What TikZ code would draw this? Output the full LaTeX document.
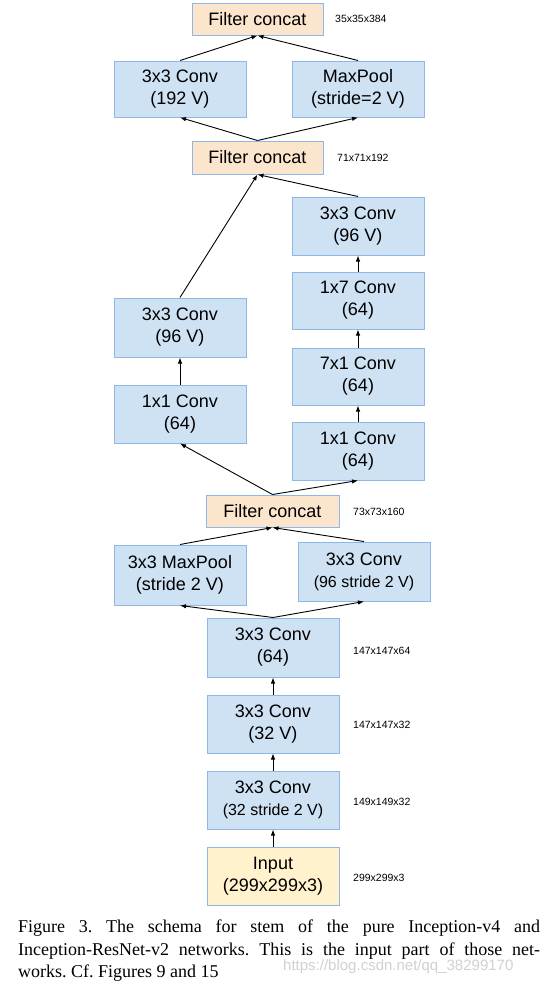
\documentclass[tikz,border=0pt]{standalone}
\usepackage{fontspec}
\setmainfont{Liberation Serif}
\setsansfont{Liberation Sans}
\usetikzlibrary{arrows.meta}

\definecolor{convfill}{HTML}{CFE2F3}
\definecolor{concatfill}{HTML}{FCE5CD}
\definecolor{inputfill}{HTML}{FFF2CC}
\definecolor{boxline}{HTML}{8EB6E6}

\tikzset{
  block/.style={draw=boxline, line width=1pt, align=center, inner sep=0pt,
    font=\sffamily\fontsize{18}{22}\selectfont, minimum width=132pt},
  convbox/.style={block, fill=convfill, minimum height=58pt},
  concatbox/.style={block, fill=concatfill, minimum height=32pt},
  inputbox/.style={block, fill=inputfill, minimum height=58pt},
  dimlabel/.style={anchor=west, inner sep=0pt, font=\sffamily\fontsize{10.5}{12}\selectfont},
  arr/.style={-{Latex[length=6pt,width=4.5pt]}, line width=0.9pt}
}
\newcommand{\smallline}[1]{{\fontsize{16}{20}\selectfont #1}}

\begin{document}
\frenchspacing
\begin{tikzpicture}[x=1pt, y=-1pt]
  \useasboundingbox[fill=white] (0,0) rectangle (558,986);

  % top concat and its two branches
  \node[concatbox, minimum width=131pt] (fcA) at (257.5,19) {Filter concat};
  \node[dimlabel] (dimA) at (335,19) {35x35x384};
  \node[convbox, minimum height=56pt] (convA) at (180,89) {3x3 Conv\\(192 V)};
  \node[convbox, minimum height=56pt] (poolA) at (358,89) {MaxPool\\(stride=2 V)};

  % middle concat
  \node[concatbox, minimum width=131pt, minimum height=33pt] (fcB) at (257.5,157.5) {Filter concat};
  \node[dimlabel] (dimB) at (337,158) {71x71x192};

  % right branch
  \node[convbox] (rA) at (358,226) {3x3 Conv\\(96 V)};
  \node[convbox, minimum height=57pt] (rB) at (358,300.5) {1x7 Conv\\(64)};
  \node[convbox, minimum height=57pt] (rC) at (358,376.5) {7x1 Conv\\(64)};
  \node[convbox] (rD) at (358,451) {1x1 Conv\\(64)};

  % left branch
  \node[convbox, minimum height=59pt] (lA) at (180,327.5) {3x3 Conv\\(96 V)};
  \node[convbox] (lB) at (180,414) {1x1 Conv\\(64)};

  % lower concat
  \node[concatbox, minimum width=133pt] (fcC) at (272.5,511) {Filter concat};
  \node[dimlabel] (dimC) at (353,512) {73x73x160};
  \node[convbox, minimum height=60pt] (poolC) at (180,575) {3x3 MaxPool\\(stride 2 V)};
  \node[convbox, minimum height=59pt] (convC) at (364,571.5) {3x3 Conv\\\smallline{(96 stride 2 V)}};

  % stem
  \node[convbox, minimum height=59pt] (c64) at (273,647.5) {3x3 Conv\\(64)};
  \node[dimlabel] (dim64) at (353,651) {147x147x64};
  \node[convbox] (c32) at (273,724) {3x3 Conv\\(32 V)};
  \node[dimlabel] (dim32) at (353,725) {147x147x32};
  \node[convbox] (c32s) at (273,800) {3x3 Conv\\\smallline{(32 stride 2 V)}};
  \node[dimlabel] (dim32s) at (353,802) {149x149x32};
  \node[inputbox] (inp) at (273,876) {Input\\(299x299x3)};
  \node[dimlabel] (dimin) at (353,878) {299x299x3};

  % connections
  \draw[arr] (inp) -- (c32s);
  \draw[arr] (c32s) -- (c32);
  \draw[arr] (c32) -- (c64);
  \draw[arr] (c64.north) -- (poolC.south);
  \draw[arr] (c64.north) -- (convC.south);
  \draw[arr] (poolC.north) -- (fcC.south);
  \draw[arr] (convC.north) -- (fcC.south);
  \draw[arr] (fcC.north) -- (lB.south);
  \draw[arr] (fcC.north) -- (rD.south);
  \draw[arr] (lB) -- (lA);
  \draw[arr] (rD) -- (rC);
  \draw[arr] (rC) -- (rB);
  \draw[arr] (rB) -- (rA);
  \draw[arr] (lA.north) -- (fcB.south);
  \draw[arr] (rA.north) -- (fcB.south);
  \draw[arr] (fcB.north) -- (convA.south);
  \draw[arr] (fcB.north) -- (poolA.south);
  \draw[arr] (convA.north) -- (fcA.south);
  \draw[arr] (poolA.north) -- (fcA.south);

  % caption
  \node[anchor=north west, inner sep=0pt, text width=522pt, align=justify,
    font=\fontsize{18}{22.5}\selectfont] (caption) at (18,920)
    {Figure 3. The schema for stem of the pure Inception-v4 and\linebreak
     Inception-ResNet-v2 networks. This is the input part of those net-\linebreak
     works. Cf. Figures 9 and 15};
  \node[anchor=west, inner sep=0pt, text=black!18,
    font=\sffamily\fontsize{15}{18}\selectfont] (mark) at (283,967)
    {https://blog.csdn.net/qq\_38299170};
\end{tikzpicture}
\end{document}
